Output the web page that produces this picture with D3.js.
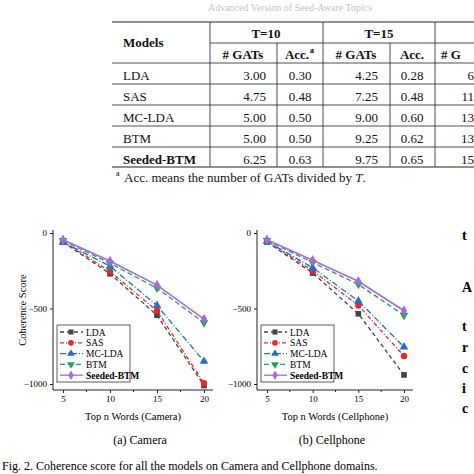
<!DOCTYPE html><html><head><meta charset="utf-8"><script src="https://cdn.jsdelivr.net/npm/d3@7"></script>
<style>body{margin:0;background:#fff}text{font-family:"Liberation Serif","DejaVu Serif",serif}</style></head><body><svg id="s" width="474" height="474"></svg>
<script>
const models=["LDA","SAS","MC-LDA","BTM","Seeded-BTM"];
const topN=[5,10,15,20];
const camera=[[-60,-270,-545,-1010],[-55,-255,-515,-995],[-60,-220,-480,-850],[-50,-200,-365,-595],[-45,-185,-345,-570]];
const cellphone=[[-60,-265,-535,-940],[-55,-250,-480,-815],[-55,-230,-450,-755],[-50,-195,-340,-545],[-45,-180,-320,-515]];
const yTicks=[0,-500,-1000];
const gats10=["3.00","4.75","5.00","5.00","6.25"], acc10=["0.30","0.48","0.50","0.50","0.63"];
const gats15=["4.25","7.25","9.00","9.25","9.75"], acc15=["0.28","0.48","0.60","0.62","0.65"];
const gats20=["6","11","13","13","15"];
const colors=["#444","#e8282f","#1f6fd1","#2f9a5a","#a56bd6"];
const dashes=["4,3","4,2,1,2","6,2,1,2","5,3",null];
const symbols=[d3.symbolSquare,d3.symbolCircle,d3.symbolTriangle,d3.symbolTriangle,d3.symbolDiamond];
const svg=d3.select("#s");
svg.append("text").attr("x",290).attr("y",11).attr("text-anchor","middle").attr("font-size",10).attr("fill","#c4c4c4").text("Advanced Version of Seed-Aware Topics");
const t=svg.append("g");
const L=112,R=474;
[[22,1.2],[43,0.8],[63,0.8],[84,0.8],[105,0.8],[126,0.8],[147,0.8],[167,1.2]].forEach(([y,w])=>{
 const x0=(y===43)?210:L;t.append("line").attr("x1",x0).attr("x2",R).attr("y1",y).attr("y2",y).attr("stroke","#222").attr("stroke-width",w);});
[[210,22],[323,22],[435,22],[277,43],[390,43]].forEach(([x,y0])=>t.append("line").attr("x1",x).attr("x2",x).attr("y1",y0).attr("y2",167).attr("stroke","#222").attr("stroke-width",0.8));
const tx=(x,y,s,a,b)=>t.append("text").attr("x",x).attr("y",y).attr("text-anchor",a||"start").attr("font-size",13).attr("font-weight",b?"bold":"normal").attr("fill","#111").text(s);
tx(123,47,"Models","start",1);tx(266,38,"T=10","middle",1);tx(379,38,"T=15","middle",1);
tx(243,59,"# GATs","middle",1);tx(297,59,"Acc.","middle",1);t.append("text").attr("x",310).attr("y",53).attr("font-size",8).attr("font-weight","bold").text("a");
tx(356,59,"# GATs","middle",1);tx(412,59,"Acc.","middle",1);tx(441,59,"# G","start",1);
models.forEach((m,i)=>{const y=80+i*21;tx(123,y,m,"start",i===4);tx(266,y,gats10[i],"end");tx(300,y,acc10[i],"middle");
tx(378,y,gats15[i],"end");tx(412,y,acc15[i],"middle");tx(474,y,gats20[i],"end");});
t.append("text").attr("x",116).attr("y",176).attr("font-size",8).text("a");
const fn=tx(124,182,"Acc. means the number of GATs divided by ");fn.append("tspan").attr("font-style","italic").text("T");fn.append("tspan").text(".");
function chart(data,x0,x1,xl,xr,label,cap,capx,ylab){
 const g=svg.append("g");
 const x=d3.scaleLinear().domain([5,20]).range([xl,xr]);
 const y=d3.scaleLinear().domain([0,-1000]).range([233,384]);
 const ax=g.append("g").attr("transform","translate(0,390)").call(d3.axisBottom(x).tickValues(topN).tickSize(3).tickSizeOuter(0));
 ax.select(".domain").attr("d",`M${x0},0H${x1}`);
 const ay=g.append("g").attr("transform",`translate(${x0},0)`).call(d3.axisLeft(y).tickValues(yTicks).tickFormat(d3.format("d")).tickSize(3).tickSizeOuter(0));
 ay.select(".domain").attr("d","M0,230V390");
 [ax,ay].forEach(a=>{a.selectAll("text").attr("font-size",9).attr("font-family","Liberation Serif");a.selectAll("line,path").attr("stroke","#222");});
 [7.5,12.5,17.5].forEach(v=>g.append("line").attr("x1",x(v)).attr("x2",x(v)).attr("y1",390).attr("y2",392).attr("stroke","#222"));
 g.append("text").attr("x",(x0+x1)/2).attr("y",420).attr("text-anchor","middle").attr("font-size",10.5).text(label);
 if(ylab) g.append("text").attr("transform",`translate(26,310) rotate(-90)`).attr("text-anchor","middle").attr("font-size",10.5).text("Coherence Score");
 data.forEach((s,i)=>{
  g.append("path").attr("d",d3.line().x((d,j)=>x(topN[j])).y(d=>y(d))(s)).attr("fill","none").attr("stroke",colors[i]).attr("stroke-width",i===4?1.6:1.3).attr("stroke-dasharray",dashes[i]);
  s.forEach((d,j)=>g.append("path").attr("d",d3.symbol(symbols[i],32)()).attr("transform",`translate(${x(topN[j])},${y(d)})${i===3?" rotate(180)":""}`).attr("fill",colors[i]));
 });
 const lx=x0+4,ly=325;
 g.append("rect").attr("x",lx).attr("y",ly).attr("width",73).attr("height",57).attr("fill","#fff").attr("stroke","#333").attr("stroke-width",0.8);
 models.forEach((m,i)=>{const yy=ly+7+i*10.8;
  g.append("line").attr("x1",lx+3).attr("x2",lx+26).attr("y1",yy).attr("y2",yy).attr("stroke",colors[i]).attr("stroke-width",1.3).attr("stroke-dasharray",dashes[i]);
  g.append("path").attr("d",d3.symbol(symbols[i],26)()).attr("transform",`translate(${lx+14},${yy})${i===3?" rotate(180)":""}`).attr("fill",colors[i]);
  g.append("text").attr("x",lx+29).attr("y",yy+3.5).attr("font-size",9.5).attr("font-weight",i===4?"bold":"normal").text(m);});
 g.append("text").attr("x",capx).attr("y",444).attr("text-anchor","middle").attr("font-size",12).text(cap);
}
chart(camera,53,213,63,204,"Top n Words (Camera)","(a) Camera",140,true);
chart(cellphone,257,413,267,404,"Top n Words (Cellphone)","(b) Cellphone",332,false);
svg.append("text").attr("x",2).attr("y",470).attr("font-size",12).text("Fig. 2.  Coherence score for all the models on Camera and Cellphone domains.");
[["t",240],["A",292],["t",331],["r",352],["c",373],["i",393],["c",413]].forEach(([c,y])=>svg.append("text").attr("x",462).attr("y",y).attr("font-size",14).attr("font-weight","bold").text(c));
</script></body></html>
